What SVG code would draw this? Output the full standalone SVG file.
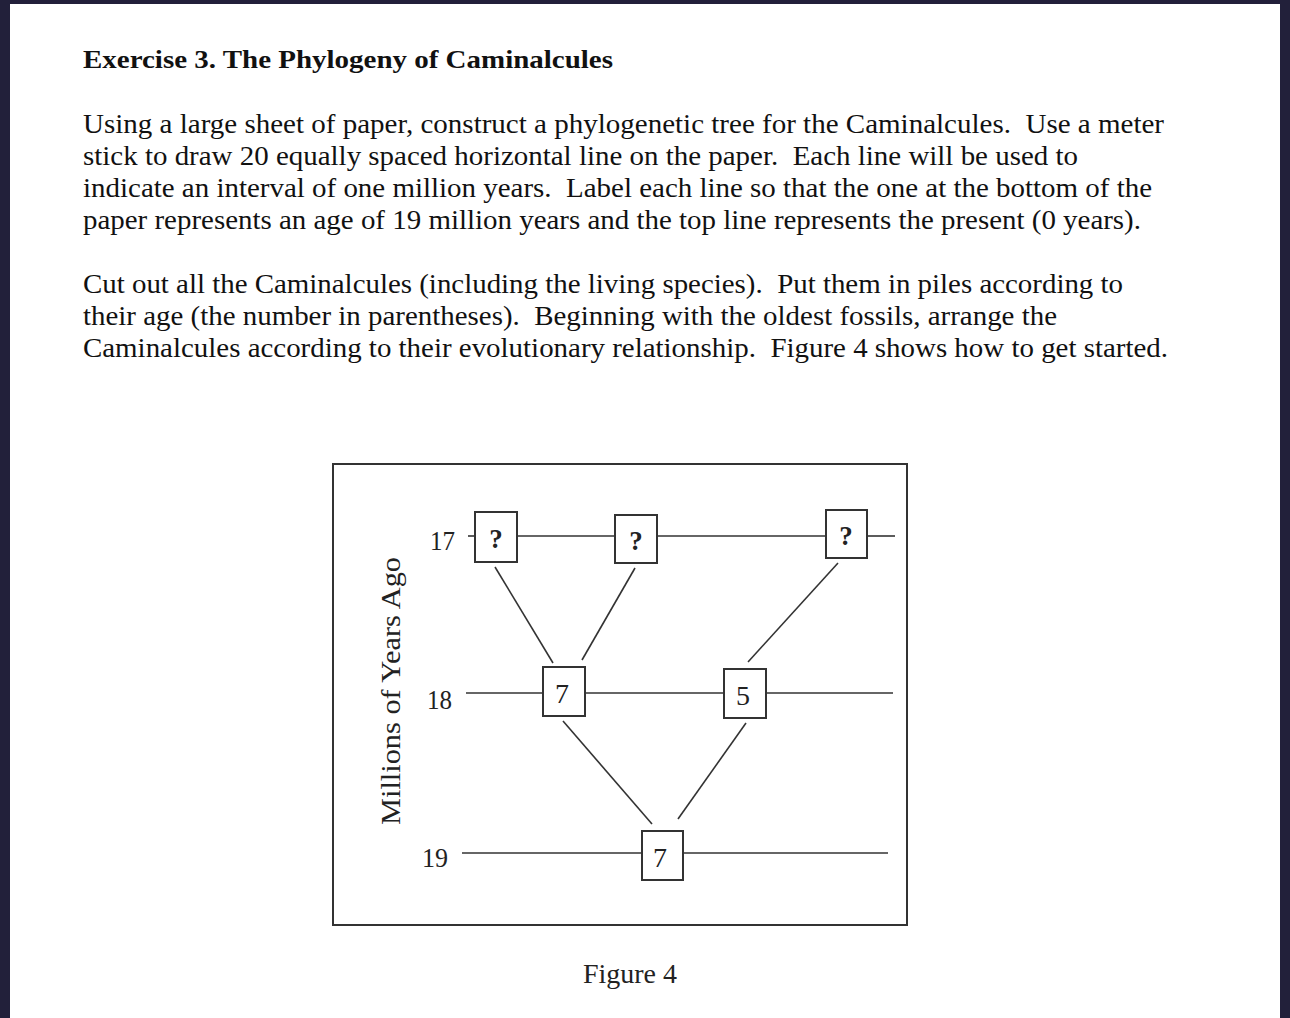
<svg xmlns="http://www.w3.org/2000/svg" width="1290" height="1018" viewBox="0 0 1290 1018">
<style>
.body{font-family:"Liberation Serif","Times New Roman",serif;font-size:28px;fill:#111;white-space:pre}
.title{font-family:"Liberation Serif","Times New Roman",serif;font-size:26px;font-weight:bold;fill:#111}
.lbl{font-family:"Liberation Serif","Times New Roman",serif;font-size:28px;fill:#222}
.bx{fill:#fff;stroke:#333;stroke-width:2}
.bt{font-family:"Liberation Serif","Times New Roman",serif;font-size:28px;fill:#222;text-anchor:middle}
.q{font-weight:bold;font-size:27px}
.ln{stroke:#333;stroke-width:1.6;fill:none}
</style>
<rect x="0" y="0" width="1290" height="1018" fill="#22203a"/>
<rect x="10" y="4" width="1270" height="1014" fill="#ffffff"/>
<text class="title" x="83" y="68" textLength="530" lengthAdjust="spacingAndGlyphs">Exercise 3. The Phylogeny of Caminalcules</text>
<g id="text">
<text class="body" x="83" y="133" textLength="1081" lengthAdjust="spacingAndGlyphs" xml:space="preserve">Using a large sheet of paper, construct a phylogenetic tree for the Caminalcules.  Use a meter</text>
<text class="body" x="83" y="165" textLength="995" lengthAdjust="spacingAndGlyphs" xml:space="preserve">stick to draw 20 equally spaced horizontal line on the paper.  Each line will be used to</text>
<text class="body" x="83" y="197" textLength="1069" lengthAdjust="spacingAndGlyphs" xml:space="preserve">indicate an interval of one million years.  Label each line so that the one at the bottom of the</text>
<text class="body" x="83" y="229" textLength="1058" lengthAdjust="spacingAndGlyphs" xml:space="preserve">paper represents an age of 19 million years and the top line represents the present (0 years).</text>
<text class="body" x="83" y="293" textLength="1040" lengthAdjust="spacingAndGlyphs" xml:space="preserve">Cut out all the Caminalcules (including the living species).  Put them in piles according to</text>
<text class="body" x="83" y="325" textLength="974" lengthAdjust="spacingAndGlyphs" xml:space="preserve">their age (the number in parentheses).  Beginning with the oldest fossils, arrange the</text>
<text class="body" x="83" y="357" textLength="1085" lengthAdjust="spacingAndGlyphs" xml:space="preserve">Caminalcules according to their evolutionary relationship.  Figure 4 shows how to get started.</text>
</g>
<rect x="333" y="464" width="574" height="461" fill="none" stroke="#333" stroke-width="2"/>
<text class="lbl" transform="translate(400,691) rotate(-90)" text-anchor="middle" font-size="29" textLength="268" lengthAdjust="spacingAndGlyphs">Millions of Years Ago</text>
<text class="lbl" x="430" y="550" textLength="25" lengthAdjust="spacingAndGlyphs">17</text>
<text class="lbl" x="427" y="709" textLength="25" lengthAdjust="spacingAndGlyphs">18</text>
<text class="lbl" x="422" y="867" textLength="26" lengthAdjust="spacingAndGlyphs">19</text>
<g id="connectors">
<line class="ln" x1="468" y1="536" x2="475" y2="536"/>
<line class="ln" x1="517" y1="536" x2="615" y2="536"/>
<line class="ln" x1="657" y1="536" x2="826" y2="536"/>
<line class="ln" x1="867" y1="536" x2="895" y2="536"/>
<line class="ln" x1="466" y1="693" x2="543" y2="693"/>
<line class="ln" x1="585" y1="693" x2="724" y2="693"/>
<line class="ln" x1="766" y1="693" x2="893" y2="693"/>
<line class="ln" x1="462" y1="853" x2="642" y2="853"/>
<line class="ln" x1="683" y1="853" x2="888" y2="853"/>
<line class="ln" x1="495" y1="567" x2="553" y2="663"/>
<line class="ln" x1="635" y1="568" x2="582" y2="660"/>
<line class="ln" x1="838" y1="563" x2="748" y2="662"/>
<line class="ln" x1="563" y1="721" x2="652" y2="824"/>
<line class="ln" x1="746" y1="723" x2="678" y2="819"/>
</g>
<g id="n17a"><rect class="bx" x="475" y="512" width="42" height="50"/><text class="bt q" x="496" y="548">?</text></g>
<g id="n17b"><rect class="bx" x="615" y="515" width="42" height="48"/><text class="bt q" x="636" y="550">?</text></g>
<g id="n17c"><rect class="bx" x="826" y="510" width="41" height="48"/><text class="bt q" x="846" y="545">?</text></g>
<g id="n18a"><rect class="bx" x="543" y="667" width="42" height="49"/><text class="bt" x="562" y="703">7</text></g>
<g id="n18b"><rect class="bx" x="724" y="669" width="42" height="49"/><text class="bt" x="743" y="705">5</text></g>
<g id="n19"><rect class="bx" x="642" y="831" width="41" height="49"/><text class="bt" x="660" y="867">7</text></g>
<text class="lbl" x="583" y="983" textLength="94" lengthAdjust="spacingAndGlyphs">Figure 4</text>
</svg>
